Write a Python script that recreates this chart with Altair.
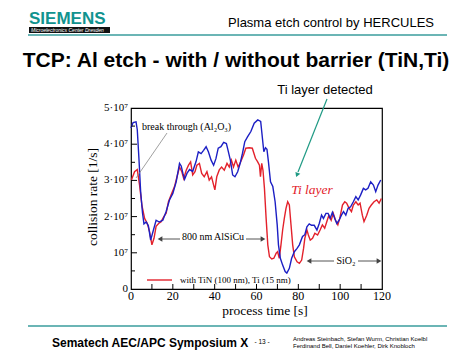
import altair as alt
import pandas as pd

# ---------------- data ----------------
blue_t = [0, 1, 2.4, 3.0, 3.8, 4.6, 5.5, 6.2, 7.3, 8.3,
          9.4, 10.5, 12, 13.5, 15.2, 16.8, 18.4, 20, 21.6, 23.2,
          24, 24.8, 25.6, 26.8, 28, 29.5, 31.1, 32.2, 33.5, 34.7,
          35.9, 37, 38.3, 39.5, 40.6, 41.7, 43, 44.3, 45.6, 46.2,
          47.5, 48.6, 49.7, 51, 52.2, 53.3, 54.4, 55.7, 57.3, 58.9,
          60.6, 62, 62.5, 63.5, 64.3, 65, 65.7, 66.7, 67.8, 68.9,
          69.9, 70.5, 71.4, 72.5, 73.7, 74.5, 75.7, 76.8, 78.1, 79.4,
          80.5, 82, 83.1, 84.1, 85.2, 86.3, 87.6, 88.9, 90, 91.1,
          92, 93.2, 94.2, 95.2, 96.3, 97.4, 98.4, 99.5, 100.6, 101.6,
          102.7, 103.8, 105, 106.3, 107.5, 108.6, 109.8, 111.1, 112.2, 113.3,
          114.6, 115.9, 117, 118.1, 119.4]
blue_y = [4.45, 4.6, 4.62, 4.4, 3.6, 2.7, 2.1, 1.8, 1.85, 1.75,
          1.35, 1.58, 1.9, 1.85, 1.9, 2.14, 2.46, 2.64, 2.96, 3.47,
          3.4, 3.2, 3.03, 3.2, 3.3, 3.25, 3.52, 3.79, 3.74, 3.83,
          3.93, 3.79, 3.56, 3.42, 3.6, 3.89, 3.93, 4.05, 4.02, 3.88,
          3.56, 3.15, 3.1, 3.24, 3.47, 3.75, 4.07, 4.2, 4.35, 4.58,
          4.67, 4.63, 4.35, 3.79, 3.9, 3.86, 3.52, 2.96, 2.83, 2.41,
          1.77, 1.22, 0.85, 0.66, 0.48, 0.44, 0.57, 0.85, 1.03, 1.12,
          1.22, 1.45, 1.5, 1.72, 1.8, 1.76, 1.76, 1.63, 1.81, 2.04,
          1.95, 2.09, 2.09, 1.95, 2.12, 1.95, 1.81, 1.9, 2.04, 2.14,
          2.04, 2.23, 2.27, 2.41, 2.55, 2.46, 2.6, 2.78, 2.74, 2.78,
          2.96, 2.87, 2.69, 2.87, 3.01]

red_t = [0.2, 1.7, 3, 4.1, 5.2, 6.5, 7.8, 8.9, 10, 11,
         12, 13.2, 14.4, 15.7, 16.8, 17.9, 19.2, 20.8, 22, 23.2,
         24.3, 25.2, 26.4, 27.5, 28.5, 29.5, 30.6, 31.5, 32.7, 33.8,
         35, 36.3, 37.4, 38.5, 39.5, 40.1, 41, 42.2, 43.3, 44.6,
         45.9, 47, 48, 49, 50.1, 51.2, 52.4, 53.8, 54.9, 56.5,
         58, 59.5, 60.5, 61.4, 61.9, 62.5, 63.1, 63.8, 64.6, 65.4,
         66.2, 67.3, 68.3, 69.4, 70.1, 70.9, 71.7, 72.5, 73.3, 74.1,
         74.9, 75.7, 76.5, 77.3, 78.1, 79.4, 80.5, 81.6, 82.5, 83.1,
         84.1, 84.8, 85.7, 86.8, 87.9, 89.2, 90.4, 91.5, 92.6, 93.6,
         94.6, 95.7, 96.7, 97.8, 98.9, 99.8, 101.1, 102.2, 103.1, 104.3,
         105.4, 106.3, 107.5, 108.6, 109.5, 110.6, 111.4, 112.7, 113.8, 114.9,
         116.2, 117.5, 118.6, 119.7]
red_y = [3.01, 3.24, 3.3, 2.87, 2.32, 1.95, 1.81, 1.58, 1.22, 1.4,
         1.73, 1.81, 1.86, 2.0, 2.09, 2.41, 2.6, 2.83, 3.1, 3.37,
         3.24, 3.05, 3.28, 3.42, 3.51, 3.15, 3.24, 3.42, 3.47, 3.19,
         3.1, 3.24, 3.01, 3.1, 2.87, 2.74, 3.1, 3.29, 3.37, 3.28,
         3.47, 3.37, 3.56, 3.37, 3.56, 3.37, 3.51, 3.7, 3.89, 3.9,
         3.89, 3.61, 3.52, 3.42, 3.1, 3.47, 3.28, 2.78, 1.95, 1.22,
         0.89, 0.83, 0.85, 0.99, 1.03, 0.85, 1.22, 1.63, 1.95, 2.23,
         2.41, 2.32, 1.77, 1.22, 0.89, 0.75, 0.71, 0.8, 1.12, 1.4,
         1.63, 1.49, 1.35, 1.4, 1.54, 1.49, 1.63, 1.77, 1.68, 1.86,
         2.04, 1.9, 2.09, 1.9, 1.77, 1.95, 2.32, 2.41, 2.37, 2.23,
         2.14, 2.32, 2.41, 2.32, 2.37, 2.04, 1.86, 2.04, 2.23, 2.32,
         2.41, 2.46, 2.37, 2.5]

x_ticks = [0, 20, 40, 60, 80, 100, 120]
x_labels = ["0", "20", "40", "60", "80", "100", "120"]
x_inner_ticks = [10, 20, 30, 40, 50, 60, 70, 80, 90, 100, 110]
y_ticks = [0, 1, 2, 3, 4, 5]
y_labels = ["0", "10⁷", "2·10⁷", "3·10⁷", "4·10⁷", "5·10⁷"]
y_inner_major = [1, 2, 3, 4]
y_inner_minor = [0.5, 1.5, 2.5, 3.5, 4.5]

# ---------------- styling ----------------
SERIF = "Liberation Serif"
SANS = "Liberation Sans"
RED = "#e3212b"
BLUE = "#1c1fc4"
TEAL = "#11938f"

W, H = 251, 181        # plot area
PL, PT = 131, 108      # plot area offset in the slide
TOTAL_W, TOTAL_H = 474, 355

xs = alt.Scale(domain=[0, 120], nice=False, zero=False)
ys = alt.Scale(domain=[0, 5], nice=False, zero=False)

one = pd.DataFrame({"k": [0]})


def txt(s, x, y, size, font=SANS, color="black", weight="normal",
        align="left", style="normal", angle=0, baseline="alphabetic"):
    return alt.Chart(one).mark_text(
        text=s, fontSize=size, font=font, color=color, fontWeight=weight,
        align=align, fontStyle=style, angle=angle, baseline=baseline,
    ).encode(x=alt.value(x - PL), y=alt.value(y - PT))


def seg(x1, y1, x2, y2, color, width=1.0):
    return alt.Chart(one).mark_rule(color=color, strokeWidth=width).encode(
        x=alt.value(x1 - PL), y=alt.value(y1 - PT),
        x2=alt.value(x2 - PL), y2=alt.value(y2 - PT))


def head(x, y, shape, color, size=30, angle=0):
    return alt.Chart(one).mark_point(
        shape=shape, filled=True, color=color, size=size, angle=angle, opacity=1
    ).encode(x=alt.value(x - PL), y=alt.value(y - PT))


def rect(x1, y1, x2, y2, color):
    return alt.Chart(one).mark_rect(color=color).encode(
        x=alt.value(x1 - PL), y=alt.value(y1 - PT),
        x2=alt.value(x2 - PL), y2=alt.value(y2 - PT))


# ---------------- data layers ----------------
red_df = pd.DataFrame({"t": red_t, "v": red_y})
blue_df = pd.DataFrame({"t": blue_t, "v": blue_y})

red_line = alt.Chart(red_df).mark_line(color=RED, strokeWidth=1.4).encode(
    x=alt.X("t:Q", scale=xs, axis=None),
    y=alt.Y("v:Q", scale=ys, axis=None),
)
blue_line = alt.Chart(blue_df).mark_line(color=BLUE, strokeWidth=1.4).encode(
    x=alt.X("t:Q", scale=xs, axis=None),
    y=alt.Y("v:Q", scale=ys, axis=None),
)

# tick labels from the tick lists, placed through the scales
x_lab = alt.Chart(pd.DataFrame({"t": x_ticks, "lab": x_labels})).mark_text(
    font=SERIF, fontSize=12, baseline="middle", align="center", color="black"
).encode(x=alt.X("t:Q", scale=xs, axis=None), y=alt.value(H + 7), text="lab:N")
y_lab = alt.Chart(pd.DataFrame({"v": y_ticks, "lab": y_labels})).mark_text(
    font=SERIF, fontSize=11, baseline="middle", align="right", color="black"
).encode(y=alt.Y("v:Q", scale=ys, axis=None), x=alt.value(-3), text="lab:N")

# inward ticks
xt = alt.Chart(pd.DataFrame({"t": x_inner_ticks})).mark_rule(color="black", strokeWidth=1).encode(
    x=alt.X("t:Q", scale=xs, axis=None), y=alt.value(H), y2=alt.value(H - 5))
yt_major = alt.Chart(pd.DataFrame({"v": y_inner_major})).mark_rule(color="black", strokeWidth=1).encode(
    y=alt.Y("v:Q", scale=ys, axis=None), x=alt.value(0), x2=alt.value(6))
yt_minor = alt.Chart(pd.DataFrame({"v": y_inner_minor})).mark_rule(color="black", strokeWidth=1).encode(
    y=alt.Y("v:Q", scale=ys, axis=None), x=alt.value(0), x2=alt.value(4))

# ---------------- slide decorations ----------------
layers = [
    red_line, blue_line, xt, yt_major, yt_minor, x_lab, y_lab,
    # header
    txt("SIEMENS", 29, 24, 17, weight="bold", color=TEAL),
    rect(29, 27, 110, 33, "#111111"),
    txt("Microelectronics Center Dresden", 31, 32, 5, color="white", style="italic"),
    txt("Plasma etch control by HERCULES", 434, 27, 13, align="right"),
    seg(28, 35, 447, 35, "#3a9c9c", 1.6),
    txt("TCP: Al etch - with / without barrier (TiN,Ti)", 236, 67, 21, weight="bold", align="center"),
    txt("Ti layer detected", 325, 94, 13, align="center"),
    # footer
    seg(28, 326, 447, 326, "#3a9c9c", 1.6),
    txt("Sematech AEC/APC Symposium X", 52, 347, 12, weight="bold"),
    txt("- 13 -", 262, 344, 6.5, align="center"),
    txt("Andreas Steinbach, Stefan Wurm, Christian Koelbl", 293, 341, 6),
    txt("Ferdinand Bell, Daniel Koehler, Dirk Knobloch", 293, 348, 6),
    # axis titles
    txt("collision rate [1/s]", 93, 197, 13.5, font=SERIF, align="center",
        angle=270, baseline="middle"),
    txt("process time [s]", 265, 315, 13.5, font=SERIF, align="center"),
    # in-plot annotations
    txt("break through (Al₂O₃)", 142, 130, 10, font=SERIF),
    seg(167, 133, 136, 178, "#888888", 0.8),
    txt("800 nm AlSiCu", 213, 240, 10, font=SERIF, align="center"),
    seg(160, 239, 180, 239, "#555555", 1), head(160, 239, "triangle-left", "#444444", 30),
    seg(246, 239, 263, 239, "#555555", 1), head(263, 239, "triangle-right", "#444444", 30),
    txt("SiO₂", 346, 264, 10, font=SERIF, align="center"),
    seg(309, 261, 334, 261, "#555555", 1), head(309, 261, "triangle-left", "#444444", 30),
    seg(358, 261, 379, 261, "#555555", 1), head(379, 261, "triangle-right", "#444444", 30),
    seg(147, 280, 172, 280, RED, 1.4),
    txt("with TiN (100 nm), Ti (15 nm)", 180, 283, 9, font=SERIF),
    txt("Ti layer", 312, 194, 13.5, font=SERIF, style="italic", color=RED, align="center"),
    seg(327, 99, 298, 172, "#1f9a84", 1.2),
    head(297, 175, "triangle-down", "#1f9a84", 28, 22),
]

chart = alt.layer(*layers).properties(
    width=W, height=H,
    autosize=alt.AutoSizeParams(type="none"),
    padding={"left": PL, "top": PT, "right": TOTAL_W - PL - W, "bottom": TOTAL_H - PT - H},
    background="white",
).configure_view(stroke="black", strokeWidth=1.2)

chart.save("out.html", embed_options={"renderer": "svg", "actions": False})
